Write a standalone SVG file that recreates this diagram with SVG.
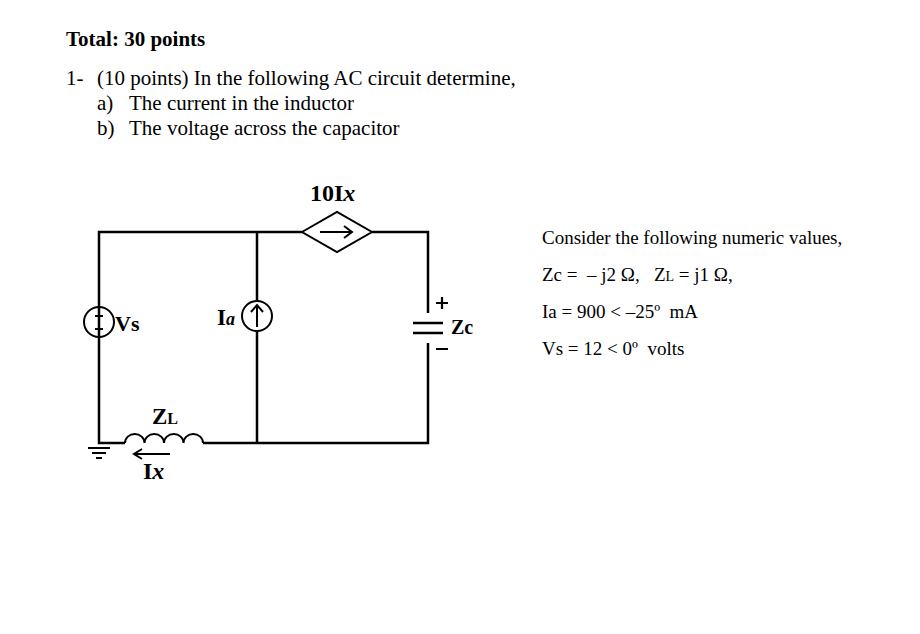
<svg xmlns="http://www.w3.org/2000/svg" width="920" height="634" viewBox="0 0 920 634">
<style>
text{font-family:"Liberation Serif",serif;fill:#000}
.t{font-size:21px}
.r{font-size:19px}
.b{font-weight:bold}
.w{fill:none;stroke:#000;stroke-width:2.5}
.s{fill:none;stroke:#000;stroke-width:2}
</style>
<rect width="920" height="634" fill="#fff"/>
<text class="t b" x="66" y="46">Total: 30 points</text>
<text class="t" x="66" y="85">1-</text>
<text class="t" x="97" y="85">(10 points) In the following AC circuit determine,</text>
<text class="t" x="97" y="110">a)</text>
<text class="t" x="129" y="110">The current in the inductor</text>
<text class="t" x="97" y="135">b)</text>
<text class="t" x="129" y="135">The voltage across the capacitor</text>
<g id="wires">
<path class="w" d="M99 307V232H302M372 232H428V313M428 343V443H203M125 443H99V307M257 232V301M257 331V443M99 337V443"/>
</g>
<g id="vs"><circle class="s" cx="99" cy="322" r="15"/>
<path d="M95 316H103M99 312V320M95 329H103" stroke="#000" stroke-width="1.8"/>
<text class="b" x="115" y="331" font-size="22">Vs</text></g>
<g id="ia"><circle class="s" cx="257" cy="316" r="15"/><path class="s" d="M257 327V306M251 312L257 305L263 312"/>
<text class="b" x="217" y="325" font-size="23">I<tspan font-style="italic" font-size="18">a</tspan></text></g>
<g id="dep"><path class="s" d="M302 232L337 212L372 232L337 252Z"/><path class="s" d="M320 232H352M344 226L352 232L344 238"/>
<text class="b" x="310" y="201" font-size="24">10I<tspan font-style="italic">x</tspan></text></g>
<g id="cap"><path class="w" d="M413 323H443M413 333H443"/>
<path d="M436 303H448M442 297V309M436 349H448" stroke="#000" stroke-width="2.2"/>
<text class="b" x="451" y="334" font-size="20">Zc</text></g>
<g id="ind"><path class="s" d="M125 443A9.75 9 0 0 1 144.5 443A9.75 9 0 0 1 164 443A9.75 9 0 0 1 183.5 443A9.75 9 0 0 1 203 443"/>
<text class="b" x="152" y="424" font-size="23">Z<tspan font-size="16">L</tspan></text>
<path class="s" d="M170 454H135M142 449L134 454L142 459"/>
<text class="b" x="143" y="479" font-size="24">I<tspan font-style="italic">x</tspan></text></g>
<g id="gnd"><path class="s" d="M88 448H110M92 453H106M96 458H102"/></g>
<text class="r" x="542" y="244">Consider the following numeric values,</text>
<text class="r" x="542" y="281" xml:space="preserve">Zc =  – j2 Ω,   Z<tspan font-size="14">L</tspan> = j1 Ω,</text>
<text class="r" x="542" y="318" xml:space="preserve">Ia = 900 &lt; –25º  mA</text>
<text class="r" x="542" y="355" xml:space="preserve">Vs = 12 &lt; 0º  volts</text>
</svg>
